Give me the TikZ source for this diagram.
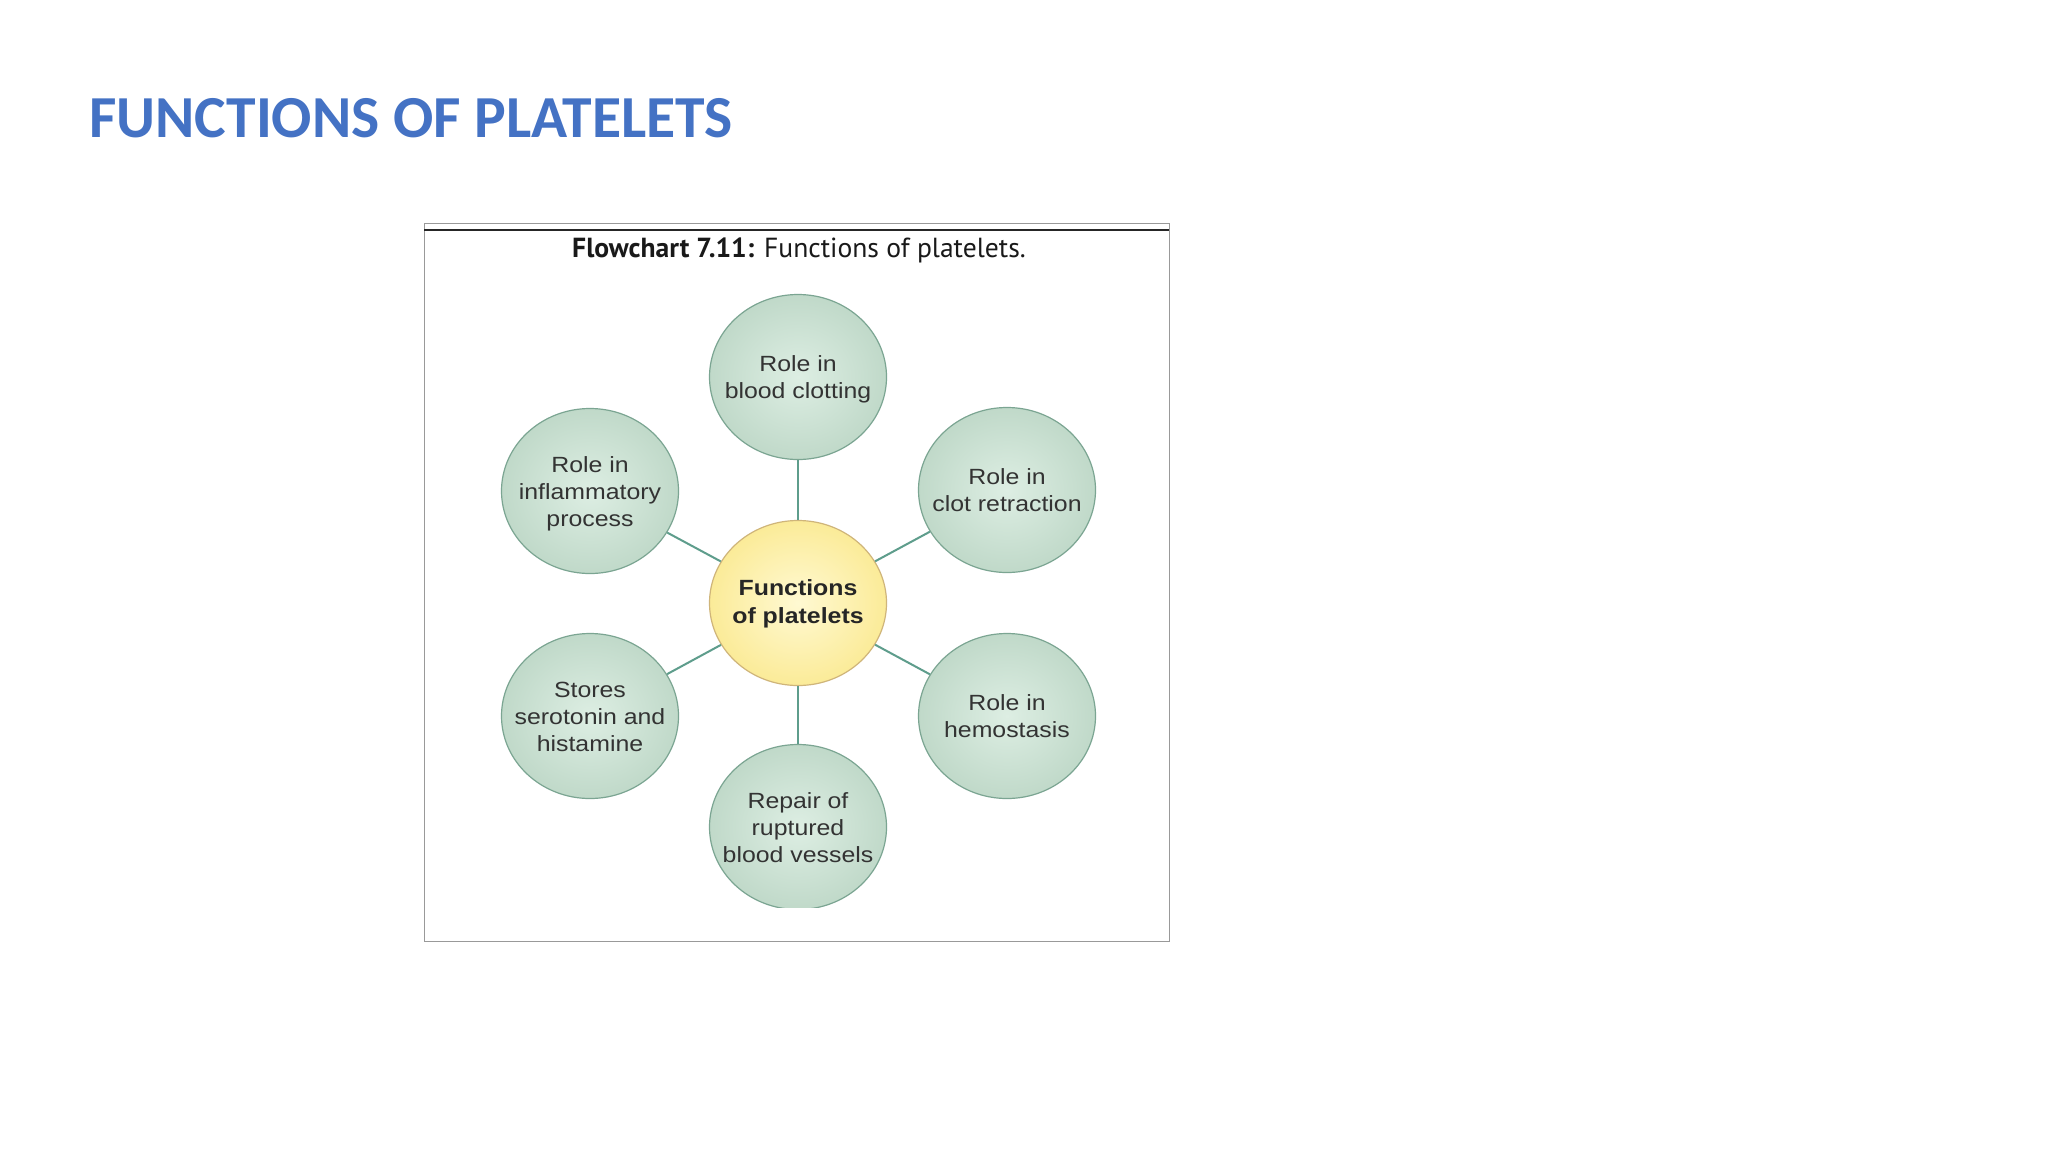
\documentclass[tikz,border=0pt]{standalone}
\usepackage{fontspec}
\setmainfont{Liberation Sans}
\newfontfamily\titlefont{Carlito}
\newfontfamily\capfont{PT Sans}
\usetikzlibrary{shapes.geometric}
\definecolor{titleblue}{HTML}{4472C4}
\definecolor{gfillin}{HTML}{DDEEE3}
\definecolor{gfillout}{HTML}{C0D9C9}
\definecolor{gborder}{HTML}{7BA592}
\definecolor{yfillin}{HTML}{FFF9D2}
\definecolor{yfillout}{HTML}{FBEB98}
\definecolor{yborder}{HTML}{CFB57A}
\definecolor{conncol}{HTML}{5E9D8C}
\definecolor{txtcol}{HTML}{333333}
\newcommand\wtext[1]{\scalebox{1.13}[1]{\begin{tabular}{@{}c@{}}#1\end{tabular}}}
\tikzset{
  outer/.style={ellipse, draw=gborder, line width=1.2pt, inner color=gfillin, outer color=gfillout,
    minimum width=177pt, minimum height=165pt, inner sep=0pt},
  inner/.style={ellipse, draw=yborder, line width=1.2pt, inner color=yfillin, outer color=yfillout,
    minimum width=177pt, minimum height=165pt, inner sep=0pt},
  otext/.style={inner sep=0pt, yshift=-3pt, text=txtcol, font=\fontsize{22}{27}\selectfont},
  itext/.style={inner sep=0pt, yshift=-1pt, text=black!85, font=\bfseries\fontsize{22}{28.5}\selectfont},
  conn/.style={draw=conncol, line width=2pt}
}
\begin{document}
\begin{tikzpicture}[x=1pt,y=-1pt]
\useasboundingbox[fill=white] (0,0) rectangle (2048,1152);
% title
\node[anchor=base west, inner sep=0pt, text=titleblue, font=\titlefont\bfseries\fontsize{59.6}{70}\selectfont] (title) at (89,137) {FUNCTIONS OF PLATELETS};
% frame
\draw[draw=black!40, line width=1pt] (424,223) rectangle (1169,941);
\draw[draw=black!85, line width=2pt] (424,230) -- (1169,230);
\node[anchor=base, inner sep=0pt, text=black!90, font=\capfont\fontsize{27.6}{32}\selectfont] (cap) at (799,257) {\textbf{Flowchart 7.11:} Functions of platelets.};
% nodes
\node[inner] (c) at (798,603) {};
\node[itext] (ct) at (c.center) {\wtext{Functions\\of platelets}};
\node[outer] (t) at (798,377) {};
\node[otext] (tt) at (t.center) {\wtext{Role in\\blood clotting}};
\node[outer] (ul) at (590,491) {};
\node[otext] (ult) at (ul.center) {\wtext{Role in\\inflammatory\\process}};
\node[outer] (ur) at (1007,490) {};
\node[otext] (urt) at (ur.center) {\wtext{Role in\\clot retraction}};
\node[outer] (ll) at (590,716) {};
\node[otext] (llt) at (ll.center) {\wtext{Stores\\serotonin and\\histamine}};
\node[outer] (lr) at (1007,716) {};
\node[otext] (lrt) at (lr.center) {\wtext{Role in\\hemostasis}};
\begin{scope}
\clip (650,700) rectangle (950,907);
\node[outer] (b) at (798,827) {};
\end{scope}
\node[otext] (bt) at (b.center) {\wtext{Repair of\\ruptured\\blood vessels}};
% connectors
\draw[conn] (c) -- (t);
\draw[conn] (c) -- (ul);
\draw[conn] (c) -- (ur);
\draw[conn] (c) -- (ll);
\draw[conn] (c) -- (lr);
\draw[conn] (c) -- (b);
\end{tikzpicture}
\end{document}
